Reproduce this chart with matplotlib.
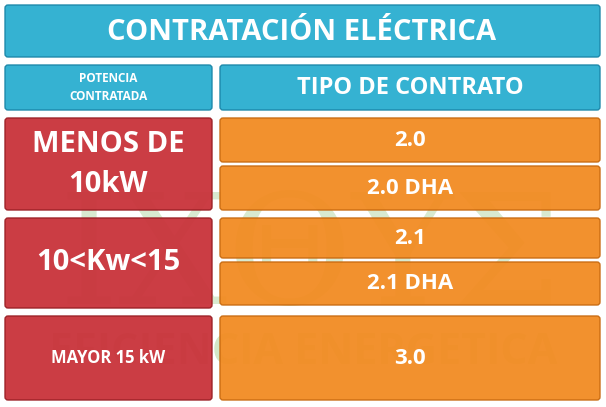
import matplotlib
matplotlib.use("Agg")
import matplotlib.pyplot as plt
from matplotlib.patches import FancyBboxPatch

title = "CONTRATACIÓN ELÉCTRICA"
headers = ["POTENCIA\nCONTRATADA", "TIPO DE CONTRATO"]
power_labels = ["MENOS DE\n10kW", "10<Kw<15", "MAYOR 15 kW"]
power_sizes = [21, 21, 12]
power_spans = [(118, 210), (218, 308), (316, 400)]
contract_labels = ["2.0", "2.0 DHA", "2.1", "2.1 DHA", "3.0"]
contract_spans = [(118, 162), (166, 210), (218, 258), (262, 305), (316, 400)]

W, H = 606, 407
fig = plt.figure(figsize=(W/100, H/100), dpi=100)
ax = fig.add_axes([0, 0, 1, 1])
ax.set_xlim(0, W); ax.set_ylim(H, 0); ax.axis("off")
FONT = "Open Sans"

# watermark
ax.text(310, 262, "ΙΧΘΥΣ", fontsize=110, color="#d8ead0", ha="center", va="center", zorder=0, family="DejaVu Serif")
ax.text(303, 352, "EFICIENCIA ENERGETICA", fontsize=31, color="#d3e8c8", ha="center", va="center", zorder=0, fontweight="bold", family=FONT)

def box(x0, x1, y0, y1, color, edge):
    ax.add_patch(FancyBboxPatch((x0, y0), x1-x0, y1-y0, boxstyle="round,pad=0,rounding_size=3",
                                fc=color, ec=edge, lw=1, zorder=2, alpha=0.95))

def txt(x, y, s, size):
    ax.text(x, y, s, fontsize=size, color="white", ha="center", va="center", fontweight="bold",
            family=FONT, zorder=3, linespacing=1.5)

cyan, cyan_e = "#2aaed0", "#1a86a8"
red, red_e = "#c9323a", "#9a1f25"
orange, orange_e = "#f28b22", "#c86a10"

box(5, 600, 5, 57, cyan, cyan_e); txt(302, 33, title, 21)
box(5, 212, 65, 110, cyan, cyan_e); txt(108, 88, headers[0], 8.5)
box(220, 600, 65, 110, cyan, cyan_e); txt(410, 88, headers[1], 17)
for (y0, y1), lab, sz in zip(power_spans, power_labels, power_sizes):
    box(5, 212, y0, y1, red, red_e); txt(108, (y0+y1)/2, lab, sz)
for (y0, y1), lab in zip(contract_spans, contract_labels):
    box(220, 600, y0, y1, orange, orange_e); txt(410, (y0+y1)/2, lab, 16)

fig.savefig("out.png", dpi=100)
